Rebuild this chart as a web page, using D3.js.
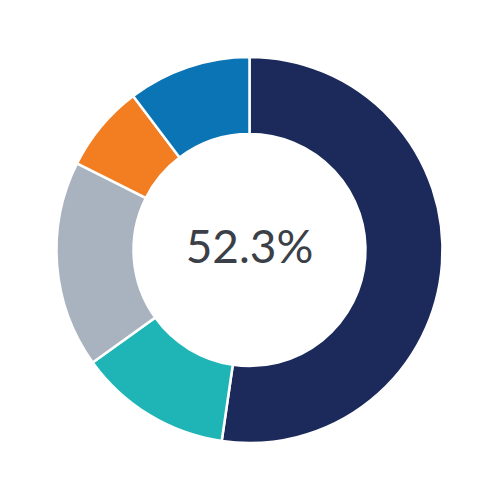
<!DOCTYPE html>
<html><head><meta charset="utf-8">
<script src="https://cdn.jsdelivr.net/npm/d3@7"></script>
<style>html,body{margin:0;padding:0;background:#fff;}</style>
</head><body>
<svg id="chart" width="500" height="500"></svg>
<script>
const categories = ["A","B","C","D","E"];
const values = [52.3, 12.8, 17.3, 7.3, 10.3];
const colors = ["#1b2a5a","#1fb5b6","#a9b2bf","#f27e21","#0b74b4"];
const centerLabel = "52.3%";

const svg = d3.select("#chart");
const g = svg.append("g").attr("transform","translate(249.5,250)");
const pie = d3.pie().sort(null).value(d=>d.v);
const arc = d3.arc().innerRadius(116).outerRadius(193);
const data = categories.map((c,i)=>({c, v: values[i], col: colors[i]}));
g.selectAll("path").data(pie(data)).join("path")
  .attr("d", arc).attr("fill", d=>d.data.col)
  .attr("stroke","#fff").attr("stroke-width",2.5);
g.append("text").attr("text-anchor","middle").attr("y",13)
  .attr("font-family","Lato, sans-serif").attr("font-size",46)
  .attr("fill","#3b3f47").text(centerLabel);
</script>
</body></html>
